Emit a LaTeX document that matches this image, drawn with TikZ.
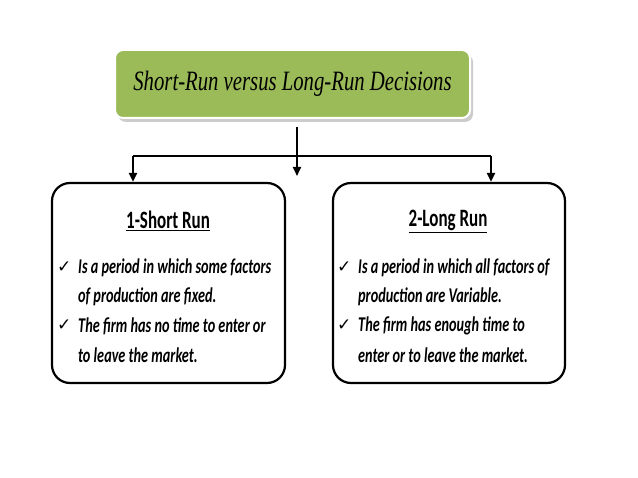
\documentclass[tikz,border=0pt]{standalone}
\usepackage{fontspec}
\setmainfont{Carlito}
\newfontfamily\bodyf[FakeStretch=0.68]{Carlito}
\newfontfamily\ttlf{Liberation Serif}
\newfontfamily\chk{DejaVu Sans}
\usetikzlibrary{arrows.meta,shadows}
\begin{document}
\begin{tikzpicture}[x=1pt,y=-1pt,
  conn/.style={line width=2pt,-{Triangle[length=9pt,width=8pt]}},
  runbox/.style={draw,line width=2.2pt,rounded corners=18pt},
  ln/.style={anchor=west,font=\bodyf\bfseries\itshape\fontsize{21}{23}\selectfont,inner sep=0pt},
  ck/.style={anchor=west,font=\chk\fontsize{17}{18}\selectfont,inner sep=0pt}]
\useasboundingbox (0,0) rectangle (638,478);
\fill[gray!40,rounded corners=8pt] (118,54) rectangle (473,122);
\node[draw=white,line width=2pt,fill={rgb,255:red,155;green,187;blue,89},rounded corners=8pt,
  minimum width=355pt,minimum height=68pt,inner sep=0pt,
  font=\ttlf\itshape\fontsize{28}{30}\selectfont] (t) at (292.5,84) {\scalebox{0.74}[1]{Short-Run versus Long-Run Decisions}};
\node[runbox,minimum width=233pt,minimum height=200pt] (L) at (168.5,283) {};
\node[runbox,minimum width=232pt,minimum height=200pt] (R) at (449,283) {};
\coordinate (a) at (297,127);
\coordinate (b) at (297,176);
\coordinate (hl) at (133,156);
\coordinate (hr) at (491,156);
\draw[conn] (a) -- (b);
\draw[line width=2pt] (hl) -- (hr);
\draw[conn] (hl) -- (hl |- L.north);
\draw[conn] (hr) -- (hr |- R.north);
\node[font=\bodyf\bfseries\fontsize{25}{27}\selectfont,inner sep=1pt] (lh) at (168,221) {\underline{1-Short Run}};
\node[font=\bodyf\bfseries\fontsize{25}{27}\selectfont,inner sep=1pt] (rh) at (448,221) {\underline{2-Long Run}};
\node[ck] (c1) at (57,267) {✓};
\node[ln] (l1) at (78,268) {Is a period in which some factors};
\node[ln] (l2) at (78,297) {of production are fixed.};
\node[ck] (c2) at (57,325) {✓};
\node[ln] (l3) at (78,326) {The firm has no time to enter or};
\node[ln] (l4) at (78,355) {to leave the market.};
\node[ck] (c3) at (337,267) {✓};
\node[ln] (r1) at (358,268) {Is a period in which all factors of};
\node[ln] (r2) at (358,297) {production are Variable.};
\node[ck] (c4) at (337,325) {✓};
\node[ln] (r3) at (358,326) {The firm has enough time to};
\node[ln] (r4) at (358,355) {enter or to leave the market.};
\end{tikzpicture}
\end{document}
